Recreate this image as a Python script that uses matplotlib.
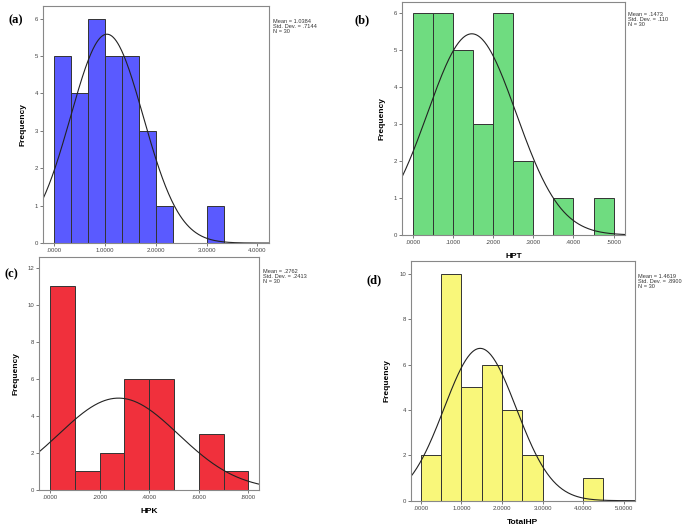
import numpy as np
import matplotlib.pyplot as plt

plt.rcParams['font.family'] = ['Liberation Sans', 'DejaVu Sans']

# panel (a)
a_edges = [0, 1/3, 2/3, 1.0, 4/3, 5/3, 2.0, 7/3, 8/3, 3.0, 10/3]
a_counts = [5, 4, 6, 5, 5, 3, 1, 0, 0, 1]
a_ticks = [0, 1, 2, 3, 4]
a_ticklabels = ['.0000', '1.0000', '2.0000', '3.0000', '4.0000']
a_stats = (1.0384, 0.7144, 30)

# panel (b) HPT
b_edges = [0, .05, .10, .15, .20, .25, .30, .35, .40, .45, .50]
b_counts = [6, 6, 5, 3, 6, 2, 0, 1, 0, 1]
b_ticks = [0, .1, .2, .3, .4, .5]
b_ticklabels = ['.0000', '.1000', '.2000', '.3000', '.4000', '.5000']
b_stats = (0.1473, 0.110, 30)

# panel (c) HPK
c_edges = [0, .1, .2, .3, .4, .5, .6, .7, .8]
c_counts = [11, 1, 2, 6, 6, 0, 3, 1]
c_ticks = [0, .2, .4, .6, .8]
c_ticklabels = ['.0000', '.2000', '.4000', '.6000', '.8000']
c_stats = (0.2762, 0.2413, 30)

# panel (d) TotalHP
d_edges = [0, .5, 1.0, 1.5, 2.0, 2.5, 3.0, 3.5, 4.0, 4.5]
d_counts = [2, 10, 5, 6, 4, 2, 0, 0, 1]
d_ticks = [0, 1, 2, 3, 4, 5]
d_ticklabels = ['.0000', '1.0000', '2.0000', '3.0000', '4.0000', '5.0000']
d_stats = (1.4619, 0.8900, 30)

panels = [
    dict(pos=[0.0628, 0.537, 0.330, 0.451], edges=a_edges, counts=a_counts,
         ticks=a_ticks, labels=a_ticklabels, stats=a_stats, stxt=['1.0384', '.7144'],
         color='#5a5aff', xlim=(-0.22, 4.23), ylim=(0, 6.33), yt=range(0, 7),
         xlabel='', tag='(a)', tagpos=(0.012, 0.962), statpos=(0.398, 0.963)),
    dict(pos=[0.5864, 0.5524, 0.326, 0.4438], edges=b_edges, counts=b_counts,
         ticks=b_ticks, labels=b_ticklabels, stats=b_stats, stxt=['.1473', '.110'],
         color='#6fdc80', xlim=(-0.027, 0.528), ylim=(0, 6.3), yt=range(0, 7),
         xlabel='HPT', tag='(b)', tagpos=(0.518, 0.962), statpos=(0.917, 0.978)),
    dict(pos=[0.0574, 0.0667, 0.3212, 0.4438], edges=c_edges, counts=c_counts,
         ticks=c_ticks, labels=c_ticklabels, stats=c_stats, stxt=['.2762', '.2413'],
         color='#f0303c', xlim=(-0.043, 0.844), ylim=(0, 12.58), yt=range(0, 13, 2),
         xlabel='HPK', tag='(c)', tagpos=(0.006, 0.478), statpos=(0.384, 0.488)),
    dict(pos=[0.5996, 0.0463, 0.3275, 0.457], edges=d_edges, counts=d_counts,
         ticks=d_ticks, labels=d_ticklabels, stats=d_stats, stxt=['1.4619', '.8900'],
         color='#f9f77a', xlim=(-0.25, 5.28), ylim=(0, 10.59), yt=range(0, 11, 2),
         xlabel='TotalHP', tag='(d)', tagpos=(0.535, 0.467), statpos=(0.932, 0.478)),
]

fig = plt.figure(figsize=(6.85, 5.25), dpi=100)

for p in panels:
    ax = fig.add_axes(p['pos'])
    edges = np.array(p['edges'])
    w = np.diff(edges)
    ax.bar(edges[:-1], p['counts'], width=w, align='edge', color=p['color'],
           edgecolor='#333333', linewidth=0.7)
    mean, sd, n = p['stats']
    bw = w[0]
    xs = np.linspace(p['xlim'][0], p['xlim'][1], 300)
    ys = n * bw * np.exp(-0.5 * ((xs - mean) / sd) ** 2) / (sd * np.sqrt(2 * np.pi))
    ax.plot(xs, ys, color='#222222', linewidth=0.8)
    ax.set_xlim(p['xlim'])
    ax.set_ylim(p['ylim'])
    ax.set_xticks(p['ticks'])
    ax.set_xticklabels(p['labels'])
    ax.set_yticks(list(p['yt']))
    ax.tick_params(labelsize=4.3, length=2, width=0.5, colors='#444444', pad=1.5)
    for s in ax.spines.values():
        s.set_color('#888888')
        s.set_linewidth(0.8)
    ax.set_ylabel('Frequency', fontsize=6, fontweight='bold', labelpad=6)
    if p['xlabel']:
        ax.set_xlabel(p['xlabel'], fontsize=6, fontweight='bold', labelpad=6)
    fig.text(p['tagpos'][0], p['tagpos'][1], p['tag'], fontsize=9,
             fontweight='bold', family='Liberation Serif', va='center')
    fig.text(p['statpos'][0], p['statpos'][1],
             'Mean = %s\nStd. Dev. = %s\nN = %d' % (p['stxt'][0], p['stxt'][1], n),
             fontsize=4.1, va='top', color='#333333', linespacing=1.0)

fig.savefig('out.png', dpi=100)
